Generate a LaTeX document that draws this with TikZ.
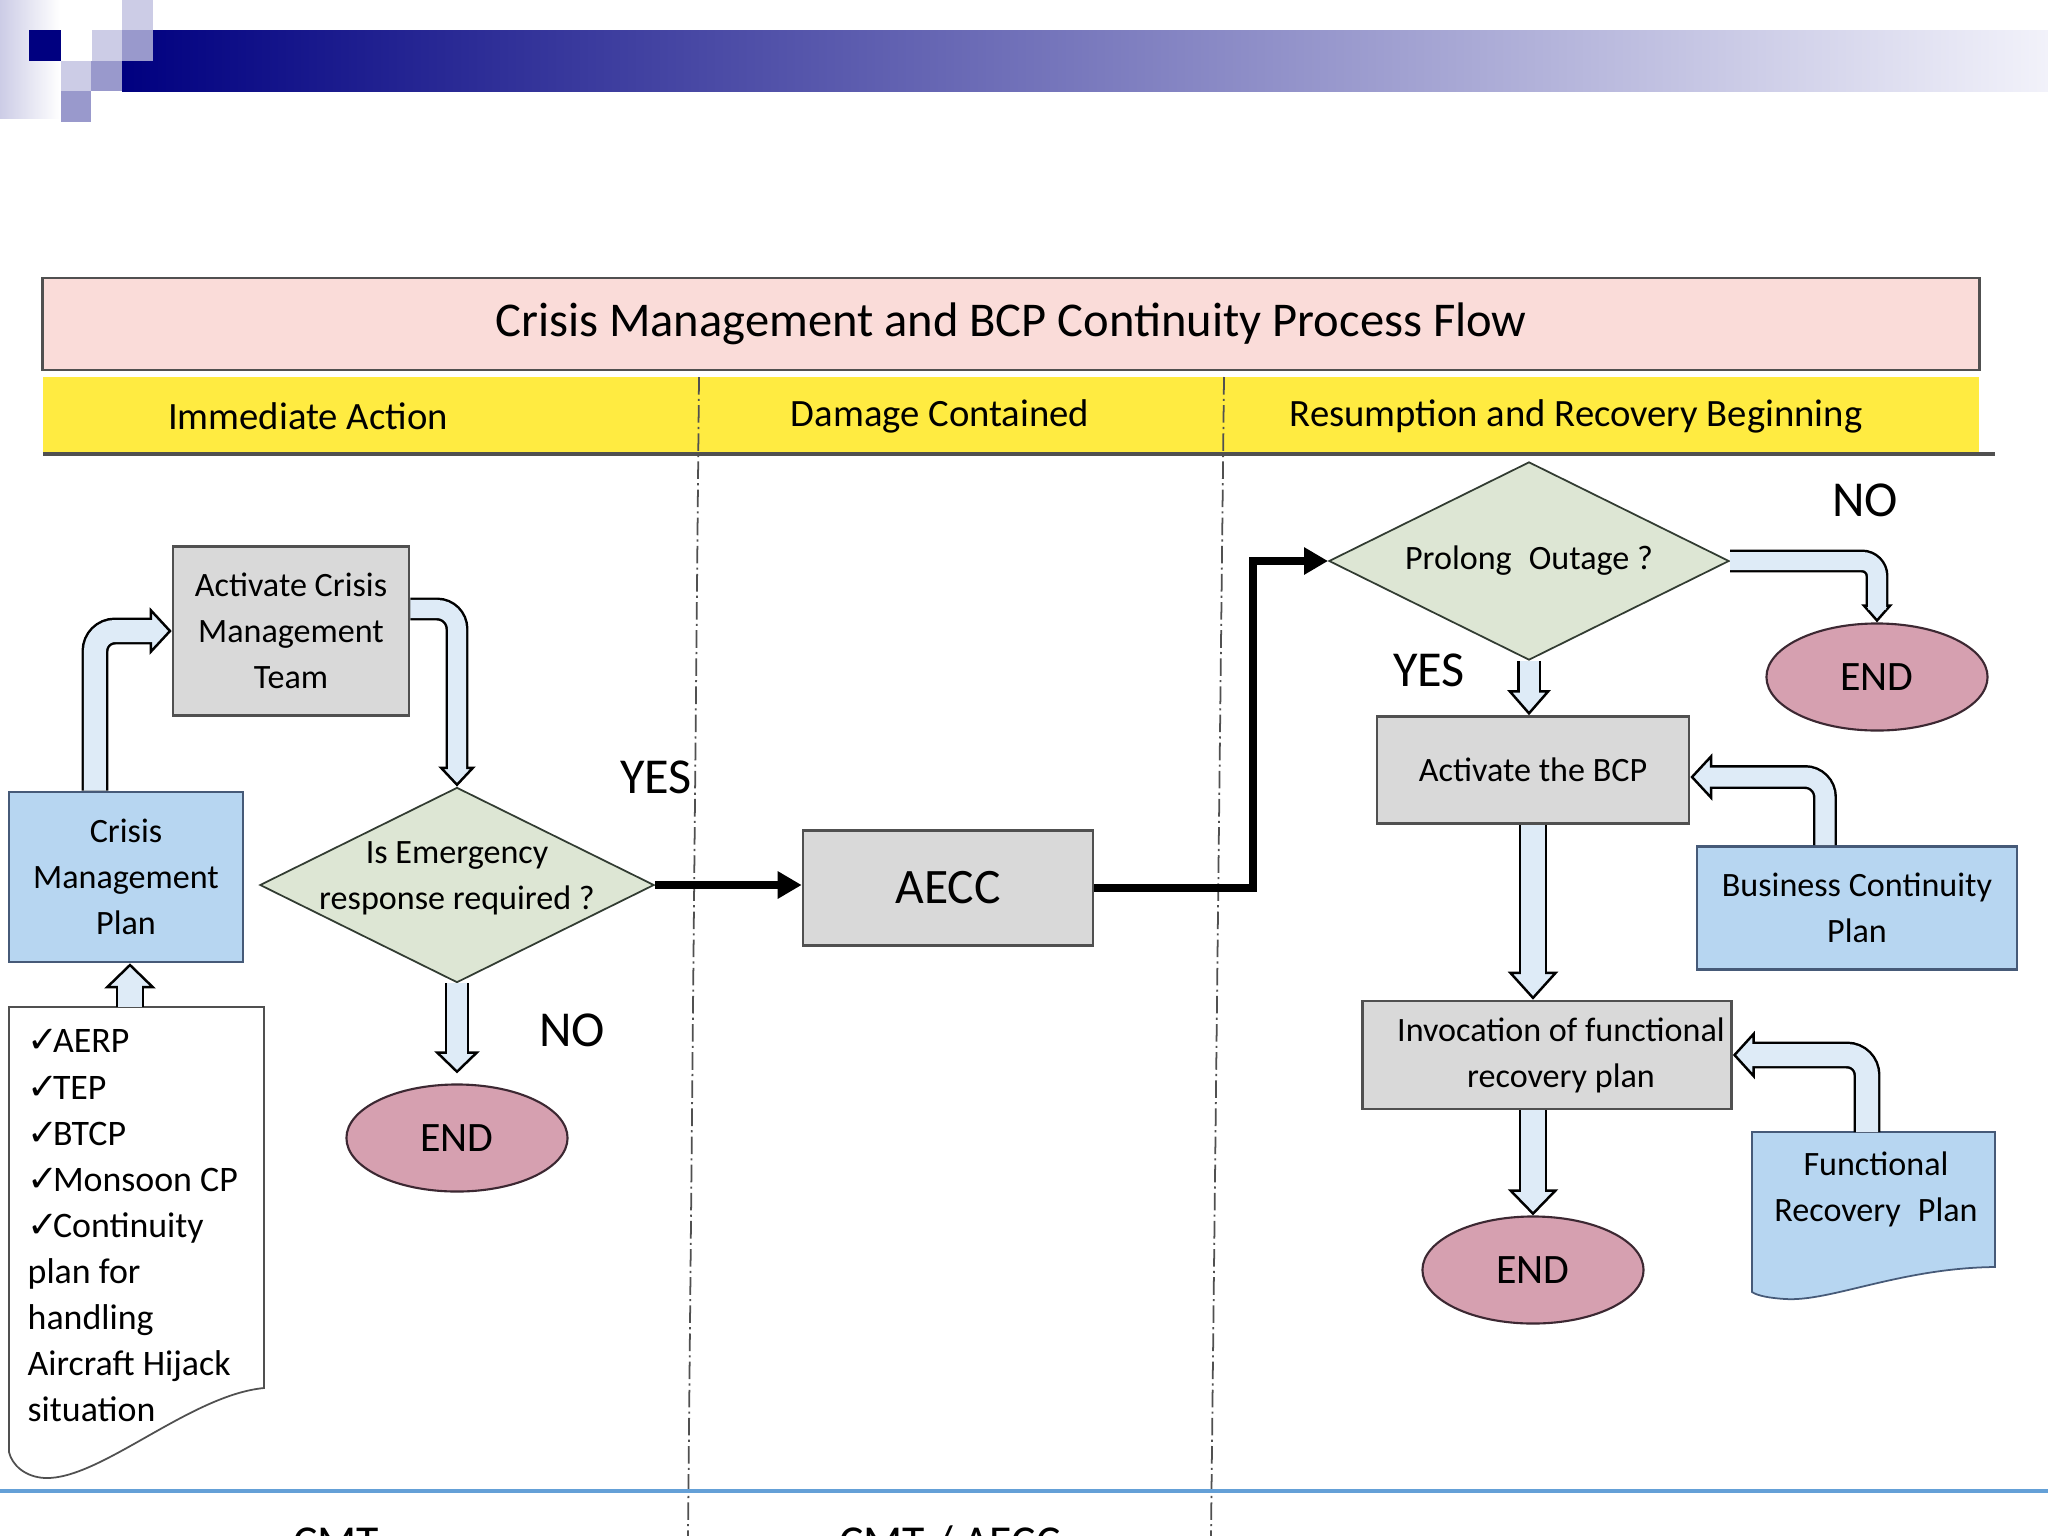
\documentclass[tikz,border=0pt]{standalone}
\usepackage{fontspec}
\setmainfont{Carlito}
\newfontfamily\symfont{DejaVu Sans}
\usetikzlibrary{shapes.geometric,arrows.meta}

\definecolor{marine}{RGB}{0,0,128}
\definecolor{lavclair}{RGB}{204,204,230}
\definecolor{lavmoyen}{RGB}{153,153,204}
\definecolor{finbarre}{RGB}{242,242,250}
\definecolor{rosetitre}{RGB}{250,220,217}
\definecolor{jaune}{RGB}{255,235,65}
\definecolor{gris}{RGB}{217,217,217}
\definecolor{bordgris}{RGB}{80,80,80}
\definecolor{bleuplan}{RGB}{183,214,241}
\definecolor{bordbleu}{RGB}{70,90,120}
\definecolor{vertlosange}{RGB}{221,230,212}
\definecolor{bordvert}{RGB}{50,60,50}
\definecolor{rosefin}{RGB}{214,160,176}
\definecolor{bordfin}{RGB}{60,40,50}
\definecolor{flechefond}{RGB}{222,235,247}
\definecolor{bleuligne}{RGB}{100,160,215}

\newcommand{\cochev}{{\symfont\fontsize{10.5}{13.1}\selectfont ✓}\kern-1.6pt}
% grosse flèche creuse : [options] {tige} {largeur tête} {longueur tête} {chemin}
\newcommand{\flechebloc}[5][]{%
  \draw[#1, line width=#2+1.4pt, -{Triangle[length=#4, width=#3, line width=0.7pt, fill=flechefond]}] #5;
  \draw[#1, line width=#2, flechefond, shorten >=#4-1.5pt] #5;}

\begin{document}
\begin{tikzpicture}[
    x=0.01cm, y=-0.01cm, % une unité = un pixel
    every node/.style={font=\fontsize{9.7}{13.1}\selectfont, align=center, inner sep=0pt},
    boitegrise/.style={rectangle, draw=bordgris, line width=0.7pt, fill=gris},
    planbleu/.style={rectangle, draw=bordbleu, line width=0.7pt, fill=bleuplan},
    losange/.style={diamond, aspect=2, draw=bordvert, line width=0.5pt, fill=vertlosange},
    fin/.style={ellipse, draw=bordfin, line width=0.6pt, fill=rosefin,
        minimum width=2.21cm, minimum height=1.07cm, font=\fontsize{11.9}{14}\selectfont},
    reponse/.style={font=\fontsize{14.3}{16}\selectfont},
    entete/.style={font=\fontsize{11}{13}\selectfont},
    lienfort/.style={line width=2pt, -{Triangle[length=0.24cm,width=0.26cm]}},
    separation/.style={draw=bordgris, line width=0.5pt, dash pattern={on 5pt off 1.2pt on 0.6pt off 1.2pt}}
]
\useasboundingbox (0,0) rectangle (2048,1536);
\clip (0,0) rectangle (2048,1536);
\fill[white] (0,0) rectangle (2048,1536);

% Décor du haut
\shade[left color=lavclair, right color=white] (0,0) rectangle (60,118);
\shade[left color=marine, right color=finbarre] (122,30) rectangle (2048,91);
\fill[marine] (29,30) rectangle (61,61);
\fill[lavclair] (92,30) rectangle (122,61);
\fill[lavclair] (122,0) rectangle (153,30);
\fill[lavclair] (61,61) rectangle (91,91);
\fill[lavmoyen] (122,30) rectangle (153,61);
\fill[lavmoyen] (91,61) rectangle (122,91);
\fill[lavmoyen] (61,91) rectangle (91,122);

% Titre et bandeau
\node[draw=bordgris, line width=0.8pt, fill=rosetitre, minimum width=19.36cm, minimum height=0.92cm,
    font=\fontsize{13.8}{16}\selectfont] (titre) at (1011,324) {Crisis Management and BCP Continuity Process Flow};
\fill[jaune] (43,377) rectangle (1979,452);
\draw[bordgris, line width=1pt] (43,454) -- (1995,454);
\draw[separation] (699,377) -- (688,1536);
\draw[separation] (1224,377) -- (1211,1536);
\node[entete] (colA) at (308,416) {Immediate Action};
\node[entete] (colB) at (940,416) {Damage Contained};
\node[entete] (colC) at (1576,416) {Resumption and Recovery Beginning};
\draw[bleuligne, line width=1pt] (0,1491) -- (2048,1491);
\node[font=\fontsize{13}{15}\selectfont, anchor=base] (piedA) at (336,1557) {CMT};
\node[font=\fontsize{13}{15}\selectfont, anchor=base] (piedB) at (950,1557) {CMT / AECC};

% Action immédiate
\node[planbleu, minimum width=2.34cm, minimum height=1.70cm] (cmp) at (126,877) {Crisis\\Management\\Plan};
\node[boitegrise, minimum width=2.36cm, minimum height=1.69cm] (act) at (291,631) {Activate Crisis\\Management\\Team};
\node[losange, minimum width=3.94cm, minimum height=1.95cm] (dia) at (457,885) {};
\node (diatexte) at (457,878) {Is Emergency\\response required ?};
\node[fin] (endA) at (457,1138) {END};
\filldraw[fill=white, draw=bordgris, line width=0.5pt] (9,1007) -- (264,1007) -- (264,1388)
    .. controls (190,1395) and (100,1480) .. (45,1478) .. controls (25,1477) and (12,1465) .. (9,1452) -- cycle;
\coordinate (lsthaut) at (130,1007);
\node[anchor=north west, align=left, font=\fontsize{10.2}{13.1}\selectfont] (lst) at (27,1029)
    {\cochev AERP\\\cochev TEP\\\cochev BTCP\\\cochev Monsoon CP\\\cochev Continuity\\plan for\\handling\\Aircraft Hijack\\situation};
\node[reponse] (ouiA) at (656,777) {YES};
\node[reponse] (nonA) at (572,1030) {NO};

% Dommages contenus
\node[boitegrise, minimum width=2.90cm, minimum height=1.15cm, font=\fontsize{14.1}{16}\selectfont] (aecc) at (948,888) {AECC};

% Reprise
\node[losange, minimum width=4.00cm, minimum height=1.98cm] (pro) at (1529,561) {Prolong\enspace Outage ?};
\node[fin] (endB) at (1877,677) {END};
\node[reponse] (nonB) at (1865,500) {NO};
\node[reponse] (ouiB) at (1429,670) {YES};
\node[boitegrise, minimum width=3.12cm, minimum height=1.07cm] (bcp) at (1533,770) {Activate the BCP};
\node[planbleu, minimum width=3.20cm, minimum height=1.23cm] (bcpplan) at (1857,908) {Business Continuity\\Plan};
\node[boitegrise, minimum width=3.69cm, minimum height=1.08cm] (inv) at (1547,1055)
    {\hspace*{0.28cm}Invocation of functional\\\hspace*{0.28cm}recovery plan};
\node[fin] (endC) at (1533,1270) {END};
\filldraw[fill=bleuplan, draw=bordbleu, line width=0.5pt] (1752,1132) -- (1995,1132) -- (1995,1267)
    .. controls (1900,1268) and (1830,1302) .. (1785,1299) .. controls (1770,1298) and (1758,1296) .. (1752,1292) -- cycle;
\coordinate (frphaut) at (1867,1132);
\node (frp) at (1876,1189) {Functional\\Recovery\enspace Plan};

% Flèches
\flechebloc[rounded corners=0.2cm]{0.22cm}{0.47cm}{0.22cm}{([xshift=-0.31cm]cmp.north) |- (act.west)}
\flechebloc[rounded corners=0.2cm]{0.18cm}{0.37cm}{0.20cm}{([yshift=0.22cm]act.east) -| (dia.north)}
\flechebloc{0.20cm}{0.45cm}{0.22cm}{(dia.south) -- ([yshift=0.1cm]endA.north)}
\flechebloc{0.24cm}{0.51cm}{0.25cm}{(lsthaut) -- (lsthaut |- cmp.south)}
\draw[lienfort] (dia.east) -- (dia.east -| aecc.west);
\coordinate (coude) at (1253,888);
\draw[lienfort] (aecc.east) -- (coude) |- (pro.west);
\flechebloc[rounded corners=0.15cm]{0.18cm}{0.31cm}{0.18cm}{(pro.east) -| (endB.north)}
\flechebloc{0.19cm}{0.43cm}{0.25cm}{(pro.south) -- (pro.south |- bcp.north)}
\flechebloc{0.24cm}{0.50cm}{0.28cm}{(bcp.south) -- (bcp.south |- inv.north)}
\flechebloc{0.24cm}{0.50cm}{0.26cm}{(endC.north |- inv.south) -- (endC.north)}
\flechebloc[rounded corners=0.2cm]{0.19cm}{0.47cm}{0.22cm}{([xshift=-0.32cm]bcpplan.north) |- ([yshift=-0.07cm]bcp.east)}
\flechebloc[rounded corners=0.2cm]{0.22cm}{0.48cm}{0.22cm}{(frphaut) |- (inv.east)}
\end{tikzpicture}
\end{document}
